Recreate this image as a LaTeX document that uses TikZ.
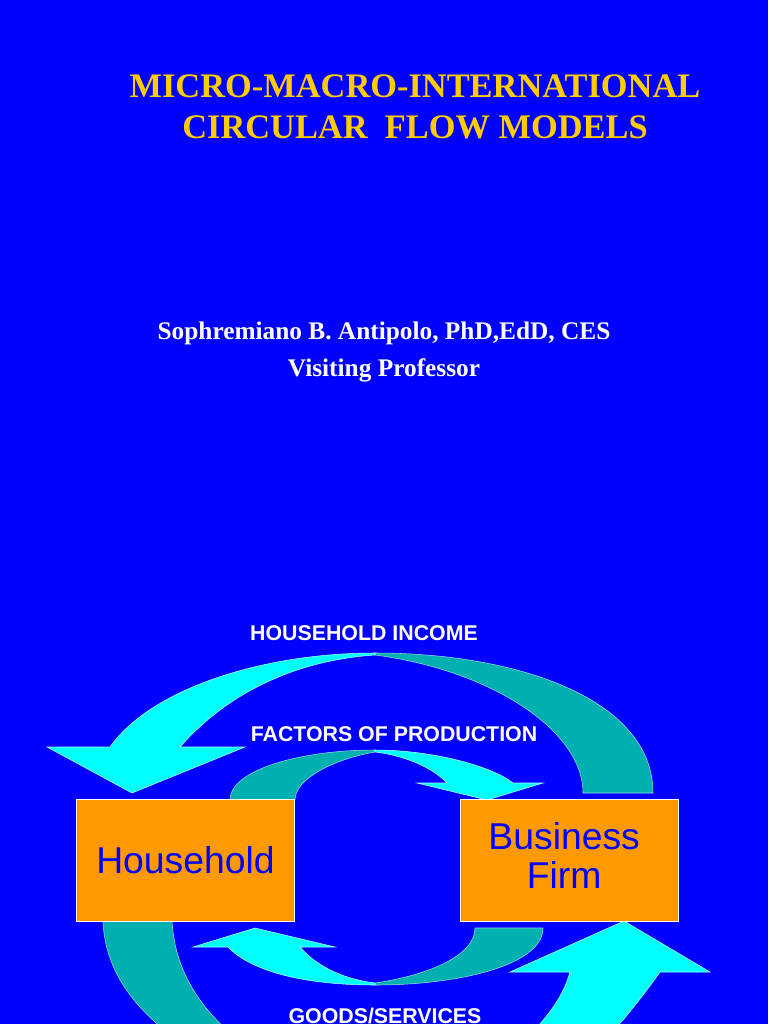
\documentclass[tikz,border=0pt]{standalone}
\usepackage{fontspec}
\setmainfont{Liberation Serif}
\newfontfamily\arial{Liberation Sans}
\definecolor{bg}{HTML}{0000FF}
\definecolor{gold}{HTML}{FFCC00}
\definecolor{cy}{HTML}{00FFFF}
\definecolor{tl}{HTML}{00B0B0}
\definecolor{org}{HTML}{FF9900}
\tikzset{
  cyanpart/.style={fill=cy, draw=white!70!cy, line width=0.4pt},
  tealpart/.style={fill=tl, draw=white!60!tl, line width=0.4pt},
  agent/.style={fill=org, draw=white, line width=0.6pt, minimum width=163pt, minimum height=91pt, inner sep=0pt, text=bg, font=\arial\fontsize{28}{31}\selectfont},
  flowlabel/.style={text=white, font=\arial\bfseries\fontsize{16}{18}\selectfont},
  titletext/.style={text=gold, font=\bfseries\fontsize{25.8}{31}\selectfont, align=center},
  authortext/.style={text=white, font=\bfseries\fontsize{19}{28}\selectfont, align=center}
}
\begin{document}
\begin{tikzpicture}[x=0.75pt,y=-0.75pt]
\fill[bg] (0,0) rectangle (768,1024);
\useasboundingbox (0,0) rectangle (768,1024);
\begin{scope}
\clip (0,0) rectangle (768,1024);
\draw[tealpart] (583,793) -- (653,793) .. controls (653,700) and (520,653) .. (375,653) -- (375,655) .. controls (490,670) and (583,730) .. (583,793) -- cycle;
\draw[cyanpart] (375,653) .. controls (260,653) and (150,690) .. (110,747) -- (47,747) -- (132,793) -- (245,747) -- (180,747) .. controls (230,690) and (300,660) .. (375,655) -- cycle;
\draw[tealpart] (230,800) .. controls (230,770) and (300,750) .. (375,750) -- (375,752) .. controls (330,760) and (295,780) .. (295,800) -- cycle;
\draw[cyanpart] (375,750) .. controls (430,750) and (490,765) .. (513,783) -- (543,783) -- (487,800) -- (417,783) -- (447,783) .. controls (430,765) and (400,755) .. (375,752) -- cycle;
\draw[tealpart] (475,928) -- (543,928) .. controls (543,965) and (460,985) .. (375,985) -- (375,983) .. controls (430,975) and (475,955) .. (475,928) -- cycle;
\draw[cyanpart] (375,985) .. controls (300,985) and (250,970) .. (228,947) -- (193,947) -- (255,928) -- (335,947) -- (300,947) .. controls (320,970) and (350,980) .. (375,983) -- cycle;
\draw[tealpart] (103,921) -- (172,921) .. controls (175,975) and (205,1015) .. (245,1045) -- (185,1045) .. controls (140,1015) and (105,975) .. (103,921) -- cycle;
\draw[cyanpart] (624,921) -- (710,972) -- (660,972) .. controls (640,1000) and (620,1025) .. (600,1045) -- (520,1045) .. controls (545,1020) and (562,1000) .. (570,972) -- (510,972) -- cycle;
\end{scope}
\node[agent] (hh) at (185.5,860.5) {Household};
\node[agent] (bf) at (569.5,860.5) {\begin{tabular}{@{}c@{}}Business\\[-2pt]Firm\end{tabular}\hspace*{8pt}};
\node[flowlabel] (inc) at (364,633) {HOUSEHOLD INCOME};
\node[flowlabel] (fac) at (394,734) {FACTORS OF PRODUCTION};
\node[flowlabel] (gds) at (385,1016) {GOODS/SERVICES};
\node[titletext] (title) at (415,107) {MICRO-MACRO-INTERNATIONAL\\CIRCULAR\ \ FLOW MODELS};
\node[authortext] (auth) at (384,352) {Sophremiano B. Antipolo, PhD,EdD, CES\\Visiting Professor};
\end{tikzpicture}
\end{document}
